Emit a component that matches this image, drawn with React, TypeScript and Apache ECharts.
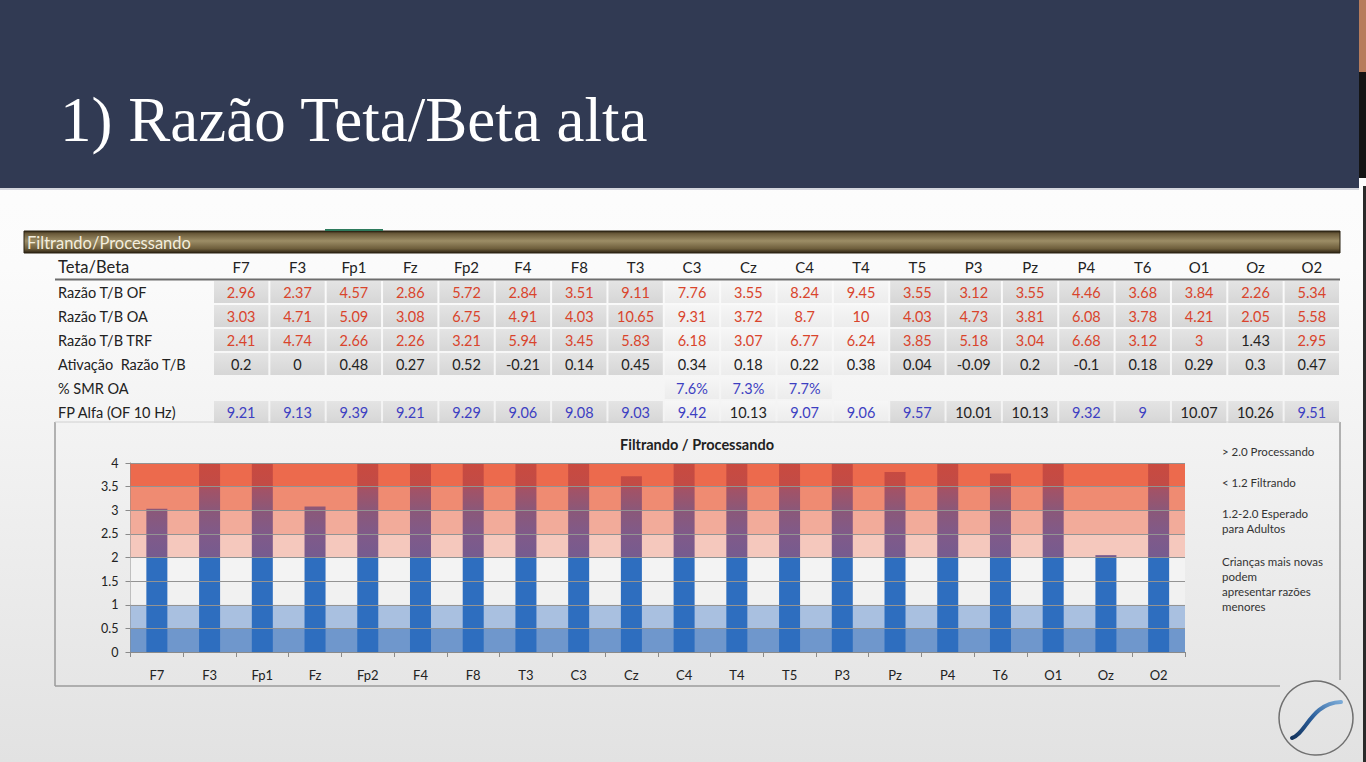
import { useEffect, useRef } from 'react';
import * as echarts from 'echarts';

// ---- data ----
const CHANNELS = ['F7', 'F3', 'Fp1', 'Fz', 'Fp2', 'F4', 'F8', 'T3', 'C3', 'Cz', 'C4', 'T4', 'T5', 'P3', 'Pz', 'P4', 'T6', 'O1', 'Oz', 'O2'];
const RATIO_OF = [2.96, 2.37, 4.57, 2.86, 5.72, 2.84, 3.51, 9.11, 7.76, 3.55, 8.24, 9.45, 3.55, 3.12, 3.55, 4.46, 3.68, 3.84, 2.26, 5.34];
const RATIO_OA = [3.03, 4.71, 5.09, 3.08, 6.75, 4.91, 4.03, 10.65, 9.31, 3.72, 8.7, 10, 4.03, 4.73, 3.81, 6.08, 3.78, 4.21, 2.05, 5.58];
const RATIO_TRF = [2.41, 4.74, 2.66, 2.26, 3.21, 5.94, 3.45, 5.83, 6.18, 3.07, 6.77, 6.24, 3.85, 5.18, 3.04, 6.68, 3.12, 3, 1.43, 2.95];
const ACTIVATION = [0.2, 0, 0.48, 0.27, 0.52, -0.21, 0.14, 0.45, 0.34, 0.18, 0.22, 0.38, 0.04, -0.09, 0.2, -0.1, 0.18, 0.29, 0.3, 0.47];
const SMR_OA: (number | null)[] = [null, null, null, null, null, null, null, null, 7.6, 7.3, 7.7, null, null, null, null, null, null, null, null, null];
const FP_ALPHA = [9.21, 9.13, 9.39, 9.21, 9.29, 9.06, 9.08, 9.03, 9.42, 10.13, 9.07, 9.06, 9.57, 10.01, 10.13, 9.32, 9, 10.07, 10.26, 9.51];

const Y_TICKS = [0, 0.5, 1, 1.5, 2, 2.5, 3, 3.5, 4];
const THRESHOLD = 2;
const ALPHA_LIMIT = 10;
const NOTES = ['> 2.0 Processando', '< 1.2 Filtrando', '1.2-2.0 Esperado\npara Adultos', 'Crianças mais novas\npodem\napresentar razões\nmenores'];

// ---- layout & style ----
const W = 1366;
const H = 762;
const FONT = 'Lato, "Noto Sans", sans-serif';
const RED = '#d9442c';
const BLUE = '#3d3fc2';
const DARK = '#222222';

const GRID_LEFT = 130.5;
const GRID_RIGHT_X = 1185;
const GRID_TOP = 463;
const GRID_BOTTOM_Y = 652;
const PLOT_H = GRID_BOTTOM_Y - GRID_TOP;
const Y_MAX = Y_TICKS[Y_TICKS.length - 1];
const yOf = (v: number) => GRID_TOP + ((Y_MAX - v) / Y_MAX) * PLOT_H;

const BAND_COLORS = ['#6f97cc', '#a9c0e0', '#f1f1f1', '#f3f3f3', '#f5c8bd', '#f2ab9a', '#ef8b72', '#ec6a4d'];

const COL0 = 213;
const COL_W = 56.35;
const ROW0 = 280;
const ROW_H = 24;
const CELL_H = 22;
const LIGHT_COLS = new Set([8, 9, 10, 11]);

type Row = { label: string; values: (number | null)[]; color: (v: number) => string; fmt?: (v: number) => string };
const ROWS: Row[] = [
  { label: 'Razão T/B OF', values: RATIO_OF, color: (v) => (v > THRESHOLD ? RED : DARK) },
  { label: 'Razão T/B OA', values: RATIO_OA, color: (v) => (v > THRESHOLD ? RED : DARK) },
  { label: 'Razão T/B TRF', values: RATIO_TRF, color: (v) => (v > THRESHOLD ? RED : DARK) },
  { label: 'Ativação  Razão T/B', values: ACTIVATION, color: () => DARK },
  { label: '% SMR OA', values: SMR_OA, color: () => BLUE, fmt: (v) => `${v.toFixed(1)}%` },
  { label: 'FP Alfa (OF 10 Hz)', values: FP_ALPHA, color: (v) => (v < ALPHA_LIMIT ? BLUE : DARK) },
];

function buildGraphics() {
  const els: any[] = [];
  // page background
  els.push({
    type: 'rect', z: -20, silent: true,
    shape: { x: 0, y: 0, width: W, height: H },
    style: { fill: new echarts.graphic.LinearGradient(0, 0, 0, 1, [
      { offset: 0, color: '#ffffff' }, { offset: 0.35, color: '#fbfbfb' }, { offset: 1, color: '#e2e2e2' },
    ]) },
  });
  // header band
  els.push({ type: 'rect', z: -19, silent: true, shape: { x: 0, y: 0, width: 1359, height: 188 }, style: { fill: '#313a53' } });
  els.push({ type: 'rect', z: -19, silent: true, shape: { x: 0, y: 188, width: 1359, height: 2 }, style: { fill: '#d3d5dc' } });
  // strip at the right edge
  els.push({ type: 'rect', z: -19, silent: true, shape: { x: 1359, y: 0, width: 7, height: 72 }, style: { fill: '#b67c5c' } });
  els.push({ type: 'rect', z: -19, silent: true, shape: { x: 1359, y: 72, width: 7, height: 106 }, style: { fill: '#141414' } });
  els.push({ type: 'rect', z: -19, silent: true, shape: { x: 1363, y: 186, width: 3, height: H - 186 }, style: { fill: '#2a2a2a' } });
  els.push({
    type: 'text', z: 10, x: 60, y: 120,
    style: { text: '1) Razão Teta/Beta alta', fill: '#ffffff', font: '63px "Liberation Serif", "DejaVu Serif", serif', textAlign: 'left', textVerticalAlign: 'middle' },
  });

  // table title bar
  els.push({
    type: 'rect', z: -5, silent: true,
    shape: { x: 24, y: 231, width: 1316, height: 22 },
    style: {
      fill: new echarts.graphic.LinearGradient(0, 0, 0, 1, [
        { offset: 0, color: '#2e2514' }, { offset: 0.12, color: '#6a5a3a' }, { offset: 0.45, color: '#9c8d66' },
        { offset: 0.8, color: '#6e5e3c' }, { offset: 1, color: '#2c2313' },
      ]),
      stroke: '#2a2212', lineWidth: 1,
    },
  });
  els.push({ type: 'rect', z: -4, silent: true, shape: { x: 325, y: 229, width: 58, height: 2 }, style: { fill: '#2d7a5c' } });
  els.push({
    type: 'text', z: 10, x: 27, y: 243,
    style: { text: 'Filtrando/Processando', fill: '#f3eedd', font: `16.5px ${FONT}`, textAlign: 'left', textVerticalAlign: 'middle' },
  });

  // table header
  els.push({ type: 'text', z: 10, x: 58, y: 267, style: { text: 'Teta/Beta', fill: DARK, font: `16.5px ${FONT}`, textAlign: 'left', textVerticalAlign: 'middle' } });
  CHANNELS.forEach((ch, i) => {
    els.push({
      type: 'text', z: 10, x: COL0 + COL_W * i + COL_W / 2, y: 267,
      style: { text: ch, fill: DARK, font: `15px ${FONT}`, textAlign: 'center', textVerticalAlign: 'middle' },
    });
  });
  els.push({ type: 'rect', z: 2, silent: true, shape: { x: 55, y: 278.5, width: 1285, height: 2 }, style: { fill: '#6d6d6d' } });

  // table body
  ROWS.forEach((row, r) => {
    const top = ROW0 + ROW_H * r + 1;
    const cy = top + CELL_H / 2;
    els.push({ type: 'text', z: 10, x: 58, y: cy, style: { text: row.label, fill: DARK, font: `14.5px ${FONT}`, textAlign: 'left', textVerticalAlign: 'middle' } });
    row.values.forEach((v, i) => {
      if (v === null) return;
      const x = COL0 + COL_W * i;
      const light = LIGHT_COLS.has(i);
      els.push({
        type: 'rect', z: -4, silent: true,
        shape: { x: x + 1, y: top, width: COL_W - 2, height: CELL_H },
        style: { fill: new echarts.graphic.LinearGradient(0, 0, 0, 1, light
          ? [{ offset: 0, color: '#f6f6f6' }, { offset: 1, color: '#ececec' }]
          : [{ offset: 0, color: '#e4e4e4' }, { offset: 1, color: '#d6d6d6' }]) },
      });
      els.push({
        type: 'text', z: 10, x: x + COL_W / 2, y: cy,
        style: { text: row.fmt ? row.fmt(v) : String(v), fill: row.color(v), font: `14.5px ${FONT}`, textAlign: 'center', textVerticalAlign: 'middle' },
      });
    });
  });

  // chart frame
  const frame = { stroke: '#9b9b9b', lineWidth: 1.5 };
  els.push({ type: 'line', z: 1, silent: true, shape: { x1: 55, y1: 422, x2: 55, y2: 686 }, style: frame });
  els.push({ type: 'line', z: 1, silent: true, shape: { x1: 55, y1: 686, x2: 1280, y2: 686 }, style: frame });
  els.push({ type: 'line', z: 1, silent: true, shape: { x1: 1340, y1: 422, x2: 1340, y2: 680 }, style: frame });
  els.push({ type: 'line', z: 1, silent: true, shape: { x1: 55, y1: 422, x2: 1340, y2: 422 }, style: { stroke: '#d0d0d0', lineWidth: 1 } });

  els.push({
    type: 'text', z: 10, x: 697, y: 444,
    style: { text: 'Filtrando / Processando', fill: DARK, font: `bold 14.5px ${FONT}`, textAlign: 'center', textVerticalAlign: 'middle' },
  });

  // notes beside the chart
  const noteY = [451, 482, 513, 561];
  NOTES.forEach((t, i) => {
    els.push({
      type: 'text', z: 10, x: 1222, y: noteY[i] - 7.5,
      style: { text: t, fill: '#333333', font: `11.5px ${FONT}`, lineHeight: 15, textAlign: 'left', textVerticalAlign: 'top' },
    });
  });

  // logo
  els.push({ type: 'circle', z: 5, silent: true, shape: { cx: 1316, cy: 718, r: 37 }, style: { fill: 'none', stroke: '#707070', lineWidth: 1.5 } });
  els.push({
    type: 'bezierCurve', z: 6, silent: true,
    shape: { x1: 1292, y1: 738, cpx1: 1306, cpy1: 734, cpx2: 1311, cpy2: 703, x2: 1341, y2: 702 },
    style: {
      fill: 'none', lineWidth: 4, lineCap: 'round',
      stroke: new echarts.graphic.LinearGradient(0, 1, 1, 0, [
        { offset: 0, color: '#14345e' }, { offset: 0.5, color: '#2b5f9c' }, { offset: 1, color: '#79a9d6' },
      ]),
    },
  });
  return els;
}

export default function App() {
  const ref = useRef<HTMLDivElement>(null);
  useEffect(() => {
    if (!ref.current) return;
    const chart = echarts.init(ref.current, undefined, { renderer: 'svg' });

    const base = RATIO_OA.map((v) => Math.min(v, THRESHOLD));
    const above = RATIO_OA.map((v) => Math.max(v - THRESHOLD, 0));
    const upperFill = {
      type: 'linear', x: 0, y: yOf(Y_MAX), x2: 0, y2: yOf(THRESHOLD), global: true,
      colorStops: [
        { offset: 0, color: '#c94a3f' }, { offset: 0.24, color: '#c24b46' }, { offset: 0.28, color: '#a35266' },
        { offset: 0.5, color: '#8b5879' }, { offset: 0.75, color: '#805a89' }, { offset: 1, color: '#765b8f' },
      ],
    };

    const bands = BAND_COLORS.map((c, i) => [
      { yAxis: Y_TICKS[i], itemStyle: { color: c } },
      { yAxis: Y_TICKS[i + 1] },
    ]);

    chart.setOption({
      animation: false,
      graphic: { elements: buildGraphics() },
      grid: { left: GRID_LEFT, right: W - GRID_RIGHT_X, top: GRID_TOP, bottom: H - GRID_BOTTOM_Y, containLabel: false },
      xAxis: {
        type: 'category', data: CHANNELS,
        axisLine: { lineStyle: { color: '#8a8a8a' } },
        axisTick: { show: true, length: 5, lineStyle: { color: '#8a8a8a' } },
        axisLabel: { color: DARK, fontFamily: FONT, fontSize: 13, margin: 16 },
      },
      yAxis: {
        type: 'value', min: 0, max: Y_MAX, interval: 0.5,
        axisLine: { show: true, lineStyle: { color: '#8a8a8a' } },
        axisTick: { show: true, length: 5, lineStyle: { color: '#8a8a8a' } },
        axisLabel: { color: DARK, fontFamily: FONT, fontSize: 12.5, margin: 12 },
        splitLine: { show: false },
      },
      series: [
        {
          type: 'line', data: [], z: 1, silent: true,
          markArea: { silent: true, data: bands, itemStyle: { opacity: 1 } },
          markLine: {
            silent: true, symbol: ['none', 'none'], label: { show: false },
            lineStyle: { color: '#939393', type: 'solid', width: 1 },
            data: Y_TICKS.slice(1).map((v) => ({ yAxis: v })),
          },
        },
        { type: 'bar', name: 'base', stack: 'oa', data: base, barWidth: 21, z: 3, itemStyle: { color: '#2e6ebf' } },
        { type: 'bar', name: 'above', stack: 'oa', data: above, barWidth: 21, z: 3, clip: true, itemStyle: { color: upperFill } },
      ],
    });
    return () => chart.dispose();
  }, []);
  return <div ref={ref} style={{ position: 'absolute', left: 0, top: 0, width: W, height: H }} />;
}
